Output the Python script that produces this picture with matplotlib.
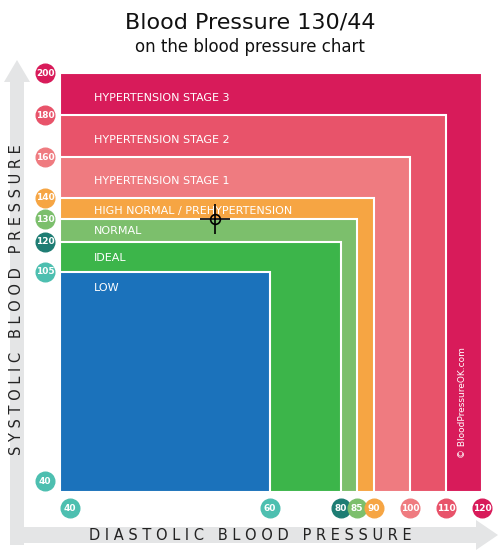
import numpy as np
import matplotlib
matplotlib.use("Agg")
import matplotlib.pyplot as plt
from matplotlib.patches import Rectangle, FancyArrow

categories = ["HYPERTENSION STAGE 3", "HYPERTENSION STAGE 2", "HYPERTENSION STAGE 1",
              "HIGH NORMAL / PREHYPERTENSION", "NORMAL", "IDEAL", "LOW"]
sys_upper = [200, 180, 160, 140, 130, 120, 105]
dia_upper = [120, 110, 100, 90, 85, 80, 60]
colors = ["#d81b5a", "#e8536a", "#ef7b80", "#f6a543", "#7cbf6c", "#3cb54a", "#1b72bb"]

xtick_vals = [40, 60, 80, 85, 90, 100, 110, 120]
xtick_cols = ["#4dbfb0", "#4dbfb0", "#1e7d74", "#7cbf6c", "#f6a543", "#ef7b80", "#e8536a", "#d81b5a"]
ytick_vals = [40, 105, 120, 130, 140, 160, 180, 200]
ytick_cols = ["#4dbfb0", "#4dbfb0", "#1e7d74", "#7cbf6c", "#f6a543", "#ef7b80", "#e8536a", "#d81b5a"]

reading_sys = 130
reading_dia_pos = 54.5  # position of marker as drawn on the chart

# piecewise scale knots (value -> relative position)
dx_v = [0, 37.2, 40, 60, 80, 85, 90, 100, 110, 120.5, 300]
dx_p = [-372, 0, 10, 210, 281, 297, 314, 350, 386, 424, 1000]
sy_v = [0, 36.5, 40, 105, 120, 130, 140, 160, 180, 200, 201.2, 400]
sy_p = [-400, 0, 11, 220, 250, 273, 294, 335, 377, 419, 424, 1000]

fx = lambda v: np.interp(v, dx_v, dx_p)
ix = lambda p: np.interp(p, dx_p, dx_v)
fy = lambda v: np.interp(v, sy_v, sy_p)
iy = lambda p: np.interp(p, sy_p, sy_v)

W, H = 500, 550
fig = plt.figure(figsize=(5, 5.5), dpi=100)
ax = fig.add_axes([60 / W, (H - 492) / H, 424 / W, 424 / H])
ax.set_xscale("function", functions=(fx, ix))
ax.set_yscale("function", functions=(fy, iy))
ax.set_xlim(37.2, 120.5)
ax.set_ylim(36.5, 201.2)
ax.axis("off")

for name, s, d, c in zip(categories, sys_upper, dia_upper, colors):
    ax.add_patch(Rectangle((37.2, 36.5), d - 37.2, s - 36.5, facecolor=c,
                           edgecolor="white", linewidth=1.5, zorder=2))
label_y = [188, 168, 148.5, 134, 125, 112, 100]
for name, y in zip(categories, label_y):
    ax.text(0.08, y, name, transform=ax.get_yaxis_transform(), color="white",
            fontsize=8, va="center", ha="left", zorder=5)

# crosshair
ax.plot([reading_dia_pos], [reading_sys], marker="o", ms=7, mfc="none", mec="black", mew=1.2, zorder=6)
ax.plot([reading_dia_pos], [reading_sys], marker="+", ms=22, mec="black", mew=1.2, zorder=6)

# ticks
for v, c in zip(xtick_vals, xtick_cols):
    ax.scatter([v], [-0.038], s=180, color=c, transform=ax.get_xaxis_transform(), clip_on=False, zorder=5)
    ax.text(v, -0.038, str(v), transform=ax.get_xaxis_transform(), color="white", fontsize=6.5,
            fontweight="bold", ha="center", va="center", zorder=6)
for v, c in zip(ytick_vals, ytick_cols):
    ax.scatter([-0.035], [v], s=180, color=c, transform=ax.get_yaxis_transform(), clip_on=False, zorder=5)
    ax.text(-0.035, v, str(v), transform=ax.get_yaxis_transform(), color="white", fontsize=6.5,
            fontweight="bold", ha="center", va="center", zorder=6)

ax.text(0.95, 0.08, "© BloodPressureOK.com", transform=ax.transAxes, rotation=90,
        color="white", fontsize=6.5, ha="center", va="bottom", zorder=6)

# background arrows & titles in pixel space
bg = fig.add_axes([0, 0, 1, 1], zorder=-1)
bg.set_xlim(0, W); bg.set_ylim(H, 0); bg.axis("off")
bg.add_patch(FancyArrow(17, 545, 0, -485, width=14, head_width=26, head_length=22,
                        length_includes_head=True, color="#e4e5e6", lw=0))
bg.add_patch(FancyArrow(10, 535, 488, 0, width=16, head_width=30, head_length=22,
                        length_includes_head=True, color="#e4e5e6", lw=0))
fig.text(17 / W, 1 - 300 / H, "S Y S T O L I C   B L O O D   P R E S S U R E", rotation=90,
         ha="center", va="center", fontsize=10.5, color="#222222")
fig.text(250 / W, 1 - 536 / H, "D I A S T O L I C   B L O O D   P R E S S U R E", ha="center",
         va="center", fontsize=10.5, color="#222222")
fig.text(0.5, 1 - 22 / H, "Blood Pressure 130/44", ha="center", va="center", fontsize=16, color="#111111")
fig.text(0.5, 1 - 47 / H, "on the blood pressure chart", ha="center", va="center", fontsize=12, color="#111111")

fig.savefig("out.png", dpi=100)
